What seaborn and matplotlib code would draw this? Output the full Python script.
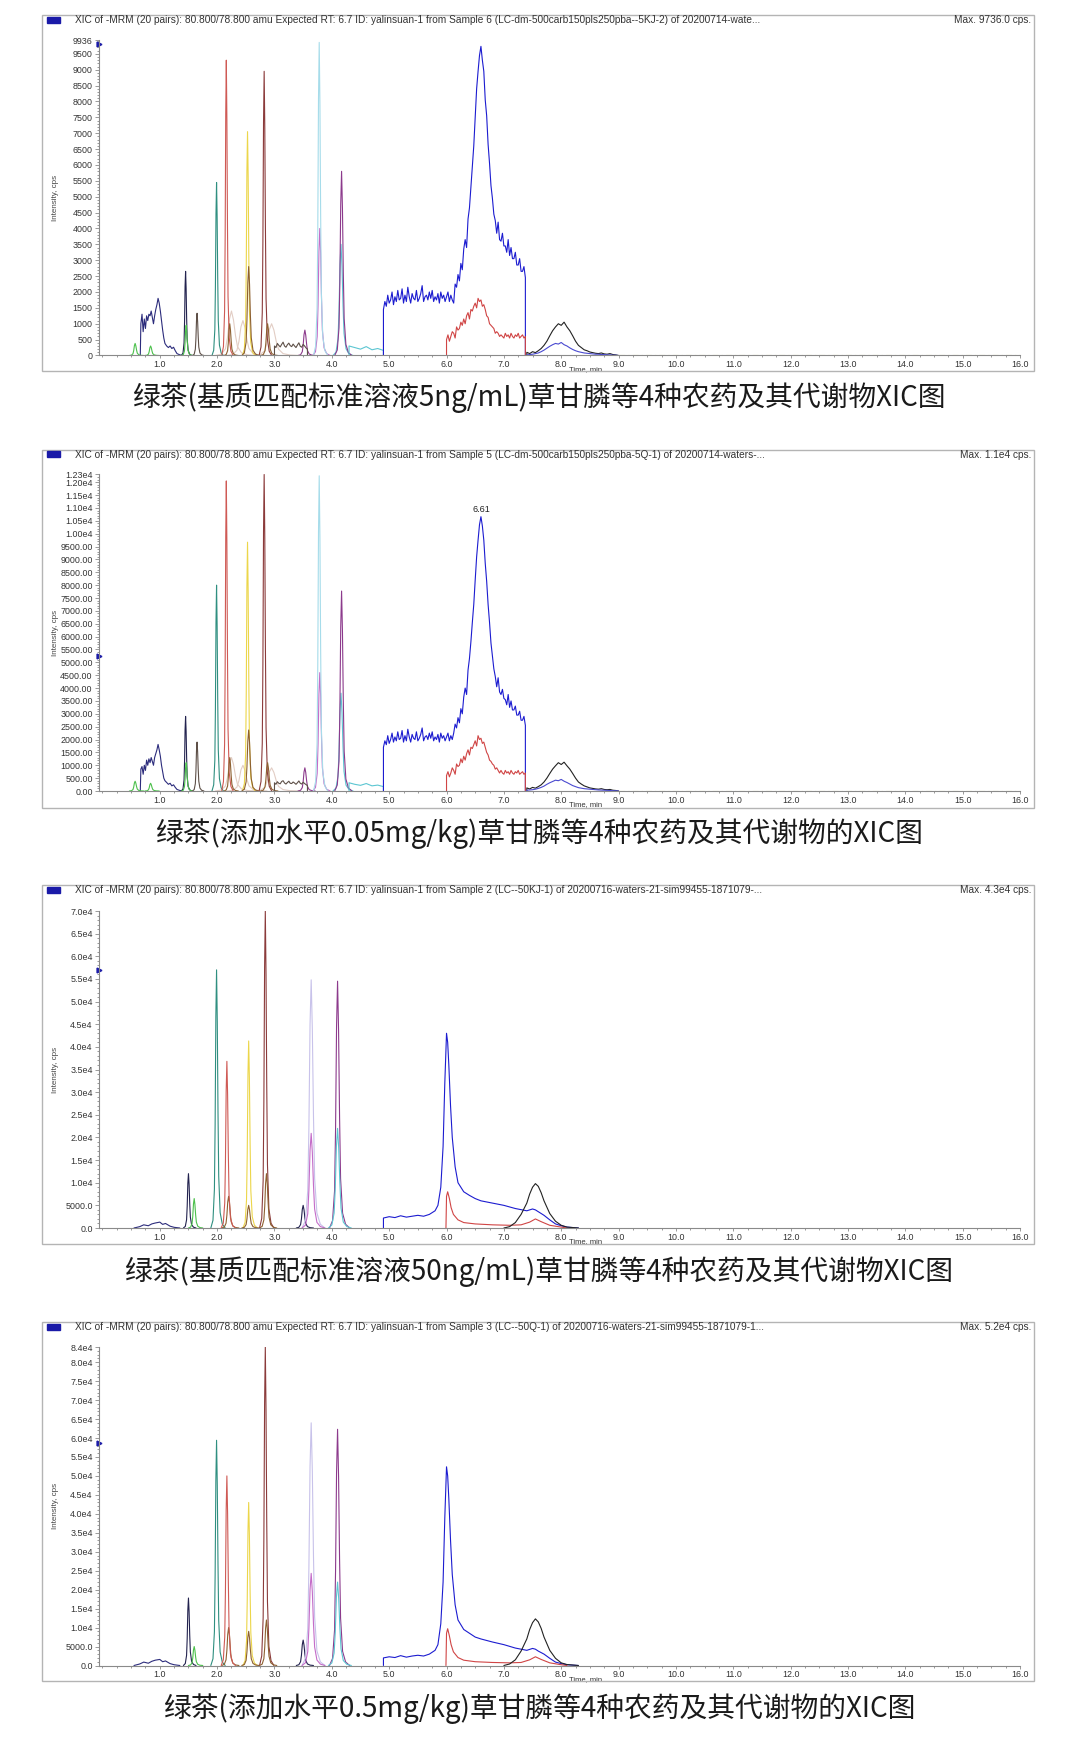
"""
XIC chromatograms of glyphosate and 3 other pesticides in green tea (4 panels)
"""

import numpy as np
import pandas as pd
import matplotlib
matplotlib.use("Agg")
import matplotlib.pyplot as plt
import seaborn as sns
from matplotlib.patches import Rectangle
from matplotlib.ticker import MultipleLocator, AutoMinorLocator

sns.set_style("white")
plt.rcParams["font.family"] = ["Liberation Sans", "Noto Sans CJK SC", "DejaVu Sans"]

COLORS = {
    "navy": "#2c2c7c", "green": "#4cc04c", "dark": "#23234f", "olive": "#5e5048",
    "teal": "#2f8f80", "red": "#cf5a55", "yellow": "#ecd64a", "brown": "#8d6030",
    "maroon": "#8b3b3b", "pale": "#e2cdc4", "cyan": "#a6dcea", "magenta": "#c46cc8",
    "purple": "#8c3a8c", "aqua": "#5cc6d2", "blue": "#1c1cd0", "rust": "#d04545",
    "black": "#222222", "violet": "#4a4ad0", "lav": "#c8c2ea", "base": "#cccc66",
}

# shared peak shape read from a typical sharp peak (offset in widths, fraction of height)
PEAK_DX = [-4, -2.5, -1.5, -1, -0.5, 0, 0.5, 1, 1.5, 2.5, 4, 6]
PEAK_FR = [0, 0.03, 0.15, 0.4, 0.82, 1, 0.8, 0.45, 0.2, 0.06, 0.015, 0]

# ---------------- panel 1 : matrix standard 5 ng/mL ----------------
P1_PK_T = [2.25, 2.45, 2.95, 0.57, 0.84, 1.45, 1.46, 1.65, 1.99, 2.16, 2.22, 2.53, 2.55, 2.82, 2.88, 3.53, 3.79, 3.78, 4.16, 4.17]
P1_PK_H = [1400, 1100, 1000, 380, 300, 2650, 950, 1330, 5450, 9300, 1000, 7050, 2800, 8950, 1000, 800, 4000, 9860, 3500, 5800]
P1_PK_W = [0.07, 0.07, 0.08, 0.025, 0.025, 0.018, 0.02, 0.02, 0.02, 0.02, 0.025, 0.022, 0.03, 0.022, 0.03, 0.03, 0.03, 0.025, 0.035, 0.03]
P1_PK_C = ["pale", "pale", "pale", "green", "green", "dark", "green", "olive", "teal", "red", "brown",
           "yellow", "brown", "maroon", "brown", "purple", "magenta", "cyan", "aqua", "purple"]

P1_EARLY_T = [0.66, 0.67, 0.69, 0.71, 0.73, 0.75, 0.77, 0.79, 0.81, 0.83, 0.85, 0.87, 0.89, 0.91, 0.93, 0.95,
              0.97, 0.99, 1.01, 1.03, 1.05, 1.07, 1.09, 1.12, 1.15, 1.18, 1.21, 1.24, 1.27, 1.30, 1.35, 1.40]
P1_EARLY_Y = [0, 1000, 1300, 750, 1150, 850, 1250, 1100, 1300, 1250, 1400, 1200, 1000, 1250, 1450, 1600,
              1800, 1650, 1400, 1100, 800, 550, 380, 300, 250, 300, 220, 260, 150, 60, 20, 0]
P1_BROWN_Y = [300, 250, 380, 320, 270, 350, 420, 300, 260, 340, 390, 310, 280, 360, 300, 250, 330, 400,
              290, 260, 350, 300, 240, 200]
P1_AQUA_Y = [300, 250, 200, 280, 180, 220, 160]
P1_BLUE_Y = [1450, 1700, 1550, 1900, 1650, 1750, 2000, 1600, 1850, 1700, 2050, 1750, 1800, 2100, 1650, 1900,
             1700, 2150, 1850, 1650, 1950, 1800, 1750, 2050, 1700, 1800, 1950, 2200, 1700, 1850, 1900, 1750,
             2000, 1800, 2050, 1700, 1850, 1750, 1950, 1650, 2000, 1800, 1900, 1700, 1850, 2000, 1700, 1900,
             1750, 1650,
             2250, 2150, 2550, 2350, 2900, 2700, 3350, 3650, 3400, 4300, 4650, 5300, 5950, 6600, 7500, 8400,
             8950, 9450, 9736,
             9300, 8950, 8050, 7550, 6650, 6050, 5350, 4950, 4450, 4250, 3850, 4200, 3650, 3600, 3850, 3450,
             3450, 3250, 3650, 3150, 3400, 3050, 3050, 3250, 2850, 2850, 3050, 2650, 2650, 2800, 2450]
P1_RED_Y = [500, 650, 450, 600, 750, 700, 550, 900, 800, 850, 1050, 950, 1150, 1000, 1250, 1350, 1150,
            1450, 1400, 1550, 1650, 1500, 1800, 1700, 1750,
            1550, 1600, 1450, 1250, 1200, 1000, 950, 900, 850, 700, 750, 700, 600, 650, 600, 550, 700, 600,
            650, 550, 700, 600, 550, 650, 600, 700, 550, 600, 650, 550, 600]
P1_BLACK_Y = [100, 60, 120, 90, 150, 220, 320, 450, 620, 780, 900, 1000, 950, 1050, 900, 780, 620, 450,
              320, 250, 180, 150, 110, 90, 70, 60, 80, 50, 40, 60, 30, 20, 0]
P1_VIOLET_Y = [20, 30, 40, 60, 80, 120, 170, 230, 290, 340, 380, 360, 410, 340, 300, 240, 190, 150, 120,
               100, 80, 70, 60, 50, 40, 40, 30, 30, 20, 20, 10, 10, 0]

# ---------------- panel 2 : spiked 0.05 mg/kg ----------------
P2_PK_T = P1_PK_T
P2_PK_H = [1300, 1000, 900, 380, 300, 2900, 1100, 1900, 8000, 12050, 1300, 9670, 2370, 12300, 1100, 900, 4600, 12250, 3800, 7770]
P2_PK_W = P1_PK_W
P2_PK_C = P1_PK_C

P2_EARLY_Y = [0, 850, 950, 650, 1000, 800, 1200, 1000, 1250, 1100, 1300, 1150, 1000, 1300, 1450, 1600,
              1810, 1600, 1350, 1000, 750, 500, 400, 330, 260, 300, 200, 240, 140, 60, 20, 0]
P2_BROWN_Y = [320, 260, 360, 300, 280, 370, 400, 310, 270, 330, 380, 300, 290, 350, 310, 260, 320, 390,
              300, 270, 340, 290, 250, 210]
P2_AQUA_Y = [320, 260, 220, 290, 200, 230, 170]
P2_BLUE_Y = [1700, 1950, 1800, 2150, 1850, 2000, 2250, 1900, 2100, 1950, 2300, 2000, 2050, 2350, 1900, 2150,
             1950, 2400, 2100, 1900, 2200, 2050, 2000, 2300, 1950, 2050, 2200, 2450, 1950, 2100, 2150, 2000,
             2250, 2050, 2300, 1950, 2100, 2000, 2200, 1900, 2250, 2050, 2150, 1950, 2100, 2250, 1950, 2150,
             2000, 2250,
             2600, 2450, 2850, 2650, 3200, 3000, 3650, 4000, 3750, 4700, 5150, 5800, 6550, 7250, 8200, 9100,
             9750, 10350, 10660,
             10300, 9750, 8850, 8150, 7250, 6550, 5750, 5250, 4750, 4450, 4050, 4400, 3850, 3750, 3950, 3600,
             3550, 3350, 3750, 3250, 3500, 3150, 3150, 3300, 2950, 2950, 3100, 2750, 2750, 2900, 2550]
P2_RED_Y = [600, 750, 550, 700, 900, 800, 650, 1050, 950, 1000, 1250, 1100, 1350, 1200, 1450, 1600, 1400,
            1700, 1650, 1800, 1950, 1750, 2150, 2000, 2050,
            1850, 1900, 1700, 1500, 1400, 1200, 1150, 1050, 1000, 850, 900, 800, 700, 800, 700, 650, 800, 700,
            750, 650, 800, 700, 650, 750, 700, 800, 650, 700, 750, 650, 700]
P2_BLACK_Y = [120, 80, 140, 110, 170, 240, 350, 500, 680, 850, 980, 1100, 1030, 1120, 980, 850, 680, 500,
              350, 270, 200, 160, 120, 100, 80, 70, 90, 60, 50, 60, 30, 20, 0]
P2_VIOLET_Y = [30, 40, 50, 70, 100, 140, 190, 260, 320, 370, 420, 400, 450, 380, 330, 270, 210, 170, 130,
               110, 90, 80, 70, 60, 50, 40, 35, 30, 25, 20, 10, 10, 0]

# ---------------- panel 3 : matrix standard 50 ng/mL ----------------
P3_PK_T = [1.50, 1.60, 1.99, 2.20, 2.17, 2.55, 2.55, 2.84, 2.86, 3.50, 3.64, 3.64, 4.10, 4.10]
P3_PK_H = [12000, 6500, 57000, 7000, 36800, 41300, 5000, 70000, 12000, 5000, 54800, 20900, 54500, 22000]
P3_PK_W = [0.022, 0.025, 0.025, 0.03, 0.025, 0.025, 0.03, 0.025, 0.03, 0.03, 0.04, 0.04, 0.035, 0.04]
P3_PK_C = ["dark", "green", "teal", "brown", "red", "yellow", "brown", "maroon", "brown", "dark",
           "lav", "magenta", "purple", "aqua"]

P3_EARLY_T = [0.55, 0.65, 0.72, 0.80, 0.86, 0.92, 1.00, 1.05, 1.10, 1.18, 1.25, 1.35]
P3_EARLY_Y = [0, 300, 700, 500, 900, 1100, 1300, 800, 1000, 400, 150, 0]
P3_BLUE_T = [4.90, 4.90, 5.0, 5.1, 5.2, 5.3, 5.4, 5.5, 5.6, 5.7, 5.8, 5.85, 5.9, 5.94, 5.97, 6.00, 6.02,
             6.04, 6.07, 6.10, 6.15, 6.20, 6.30, 6.40, 6.50, 6.60, 6.80, 7.00, 7.20, 7.40, 7.50, 7.55,
             7.60, 7.70, 7.80, 7.90, 8.00, 8.10, 8.30]
P3_BLUE_Y = [0, 2200, 2500, 2300, 2700, 2400, 2600, 2800, 2600, 3000, 3800, 5000, 9000, 18000, 32000,
             43000, 41000, 36000, 27000, 20000, 13500, 10000, 8000, 7200, 6500, 6000, 5500, 5000, 4300,
             3800, 4200, 4000, 3600, 2800, 1800, 900, 500, 200, 0]
P3_RED_T = [5.99, 6.00, 6.02, 6.05, 6.08, 6.12, 6.20, 6.30, 6.50, 6.80, 7.10, 7.30, 7.45, 7.55, 7.65,
            7.80, 8.00, 8.10]
P3_RED_Y = [0, 7000, 8000, 6500, 4500, 3000, 1800, 1200, 900, 700, 600, 700, 1300, 2000, 1400, 600, 200, 0]
P3_BLACK_T = [7.0, 7.1, 7.2, 7.3, 7.4, 7.45, 7.5, 7.55, 7.6, 7.65, 7.7, 7.8, 7.9, 8.0, 8.1, 8.3]
P3_BLACK_Y = [0, 300, 1200, 3000, 5500, 7500, 9000, 9800, 9200, 7800, 6000, 3200, 1500, 600, 200, 0]

# ---------------- panel 4 : spiked 0.5 mg/kg ----------------
P4_PK_T = P3_PK_T
P4_PK_H = [17800, 5000, 59400, 10000, 50000, 43000, 9000, 84000, 12000, 6700, 64000, 24300, 62300, 22000]
P4_PK_W = P3_PK_W
P4_PK_C = P3_PK_C

P4_EARLY_Y = [0, 400, 900, 600, 1100, 1400, 1600, 1000, 1200, 500, 200, 0]
P4_BLUE_Y = [0, 2000, 2300, 2100, 2600, 2200, 2500, 2700, 2500, 3000, 4000, 5500, 11000, 22000, 39000,
             52400, 50000, 44000, 33000, 24000, 16000, 12000, 9500, 8500, 7500, 7000, 6200, 5500, 4600,
             4000, 4500, 4300, 3800, 3000, 1900, 900, 500, 200, 0]
P4_RED_Y = [0, 8500, 9700, 7800, 5500, 3600, 2100, 1400, 1000, 800, 700, 800, 1500, 2300, 1600, 700, 200, 0]
P4_BLACK_Y = [0, 400, 1500, 3800, 7000, 9500, 11300, 12300, 11500, 9800, 7500, 4000, 1900, 700, 250, 0]

BASE_T = [9.0, 16.0]
BASE_Y = [0, 0]

# y axes
P1_YT = list(range(0, 10000, 500)) + [9936]
P2_YT = list(range(0, 12001, 500)) + [12300]
P3_YT = list(range(0, 70001, 5000))
P4_YT = list(range(0, 80001, 5000)) + [84000]
P1_YL = [str(v) for v in P1_YT]
P2_YL = [f"{v:.2f}" if v < 10000 else f"{v / 1e4:.2f}e4" for v in P2_YT]
P3_YL = ["0.0" if v == 0 else ("5000.0" if v == 5000 else f"{v / 1e4:.1f}e4") for v in P3_YT]
P4_YL = ["0.0" if v == 0 else ("5000.0" if v == 5000 else f"{v / 1e4:.1f}e4") for v in P4_YT]
Y_MARK = [9800, 5250, 57000, 58700]

HEAD = "XIC of -MRM (20 pairs): 80.800/78.800 amu Expected RT: 6.7 ID: yalinsuan-1 from "
HEADERS = [
    HEAD + "Sample 6 (LC-dm-500carb150pls250pba--5KJ-2) of 20200714-wate...",
    HEAD + "Sample 5 (LC-dm-500carb150pls250pba-5Q-1) of 20200714-waters-...",
    HEAD + "Sample 2 (LC--50KJ-1) of 20200716-waters-21-sim99455-1871079-...",
    HEAD + "Sample 3 (LC--50Q-1) of 20200716-waters-21-sim99455-1871079-1...",
]
MAXES = ["Max. 9736.0 cps.", "Max. 1.1e4 cps.", "Max. 4.3e4 cps.", "Max. 5.2e4 cps."]
CAPTIONS = [
    "绿茶(基质匹配标准溶液5ng/mL)草甘膦等4种农药及其代谢物XIC图",
    "绿茶(添加水平0.05mg/kg)草甘膦等4种农药及其代谢物的XIC图",
    "绿茶(基质匹配标准溶液50ng/mL)草甘膦等4种农药及其代谢物XIC图",
    "绿茶(添加水平0.5mg/kg)草甘膦等4种农药及其代谢物的XIC图",
]

# layout in pixels
W, H = 1080, 1742
AX_L, AX_R = 99, 1020
AX_TOP = [40, 474.5, 911, 1347]
AX_BASE = [355.5, 791, 1228, 1665.5]
FR_L, FR_R = 42, 1034
FR_TOP = [15.5, 450, 885.5, 1322]
FR_BOT = [371, 808, 1244, 1681]
CAP_Y = [398, 834, 1272, 1709]


def peak_layers(T, Hs, Ws, C):
    out = []
    for t0, h, w, c in zip(T, Hs, Ws, C):
        out.append((t0 + np.array(PEAK_DX) * w, np.array(PEAK_FR) * h, c))
    return out


def grid_layer(t0, step, vals, c):
    t = t0 + step * np.arange(len(vals))
    return (np.r_[t0, t, t[-1]], np.r_[0, vals, 0], c)


def draw(ax, layers, lw=0.8):
    frames, pal, order = [], {}, []
    for i, (t, y, c) in enumerate(layers):
        name = f"L{i:02d}"
        frames.append(pd.DataFrame({"t": t, "y": y, "trace": name}))
        pal[name] = COLORS[c]
        order.append(name)
    df = pd.concat(frames, ignore_index=True)
    sns.lineplot(data=df, x="t", y="y", hue="trace", hue_order=order, palette=pal,
                 estimator=None, sort=False, legend=False, linewidth=lw, ax=ax)


def low_layers(early_t, early_y, pk, brown, aqua, blue, red, black, violet):
    L = [(np.array(early_t), np.array(early_y), "navy")]
    L += peak_layers(*pk)
    L.append(grid_layer(3.0, 0.025, brown, "olive"))
    L.append(grid_layer(4.3, 0.1, aqua, "aqua"))
    L.append(grid_layer(4.9, 0.025, blue, "blue"))
    L.append(grid_layer(6.0, 0.025, red, "rust"))
    L.append(grid_layer(7.4, 0.05, black, "black"))
    L.append(grid_layer(7.4, 0.05, violet, "violet"))
    return L


def high_layers(early_y, pk, blue_y, red_y, black_y):
    L = [(np.array(P3_EARLY_T), np.array(early_y), "navy")]
    L += peak_layers(*pk)
    L.append((np.array(P3_BLUE_T), np.array(blue_y), "blue"))
    L.append((np.array(P3_RED_T), np.array(red_y), "rust"))
    L.append((np.array(P3_BLACK_T), np.array(black_y), "black"))
    return L


LAYERS = [
    low_layers(P1_EARLY_T, P1_EARLY_Y, (P1_PK_T, P1_PK_H, P1_PK_W, P1_PK_C), P1_BROWN_Y, P1_AQUA_Y,
               P1_BLUE_Y, P1_RED_Y, P1_BLACK_Y, P1_VIOLET_Y),
    low_layers(P1_EARLY_T, P2_EARLY_Y, (P2_PK_T, P2_PK_H, P2_PK_W, P2_PK_C), P2_BROWN_Y, P2_AQUA_Y,
               P2_BLUE_Y, P2_RED_Y, P2_BLACK_Y, P2_VIOLET_Y),
    high_layers(P3_EARLY_Y, (P3_PK_T, P3_PK_H, P3_PK_W, P3_PK_C), P3_BLUE_Y, P3_RED_Y, P3_BLACK_Y),
    high_layers(P4_EARLY_Y, (P4_PK_T, P4_PK_H, P4_PK_W, P4_PK_C), P4_BLUE_Y, P4_RED_Y, P4_BLACK_Y),
]
YTICKS = [(P1_YT, P1_YL), (P2_YT, P2_YL), (P3_YT, P3_YL), (P4_YT, P4_YL)]

fig = plt.figure(figsize=(W / 100, H / 100), dpi=100)
fig.patch.set_facecolor("white")

for i in range(4):
    # panel frame and header
    fig.add_artist(Rectangle((FR_L / W, 1 - FR_BOT[i] / H), (FR_R - FR_L) / W,
                             (FR_BOT[i] - FR_TOP[i]) / H, transform=fig.transFigure,
                             fill=False, edgecolor="#b4b4b4", linewidth=1.0))
    fig.add_artist(Rectangle((47 / W, 1 - (FR_TOP[i] + 7.5) / H), 13 / W, 6 / H,
                             transform=fig.transFigure, color="#1a1aa8"))
    fig.text(75 / W, 1 - (FR_TOP[i] + 4.5) / H, HEADERS[i], fontsize=7.3, color="#333333",
             va="center", ha="left")
    fig.text(1031 / W, 1 - (FR_TOP[i] + 4.5) / H, MAXES[i], fontsize=7.3, color="#333333",
             va="center", ha="right")
    fig.text(539 / W, 1 - CAP_Y[i] / H, CAPTIONS[i], fontsize=20, color="#1a1a1a",
             ha="center", va="center", family=["Noto Sans CJK SC", "DejaVu Sans"])

    ax = fig.add_axes([AX_L / W, 1 - AX_BASE[i] / H, (AX_R - AX_L) / W,
                       (AX_BASE[i] - AX_TOP[i]) / H])
    draw(ax, LAYERS[i])
    if i < 2:
        sns.lineplot(x=BASE_T, y=BASE_Y, color=COLORS["base"], linewidth=0.8,
                     linestyle=(0, (5, 3, 1, 3)), ax=ax)

    yt, yl = YTICKS[i]
    ax.set_xlim(-0.06, 16.0)
    ax.set_ylim(0, yt[-1])
    ax.set_xticks(np.arange(1, 17))
    ax.set_xticklabels([f"{v:.1f}" for v in np.arange(1, 17)])
    ax.xaxis.set_minor_locator(MultipleLocator(0.25))
    ax.set_yticks(yt)
    ax.set_yticklabels(yl)
    ax.yaxis.set_minor_locator(AutoMinorLocator(5))
    for s in ["top", "right"]:
        ax.spines[s].set_visible(False)
    for s in ["left", "bottom"]:
        ax.spines[s].set_color("#8a8a8a")
        ax.spines[s].set_linewidth(0.8)
    ax.tick_params(which="both", bottom=True, left=True, color="#8a8a8a", width=0.6)
    ax.tick_params(which="major", length=3, labelsize=6.4, labelcolor="#333333", pad=1.5)
    ax.tick_params(axis="x", which="major", length=2.5, pad=0.8)
    ax.tick_params(which="minor", length=1.5)
    ax.set_xlabel("")
    ax.set_ylabel("Intensity, cps", fontsize=5.8, color="#444444")
    ax.yaxis.set_label_coords(-0.043, 0.5)
    ax.annotate("Time, min", xy=(8.0, 0), xycoords=("data", "axes fraction"),
                xytext=(5.5, -9.8), textcoords="offset points", fontsize=5.5, color="#333333",
                ha="left", va="center", annotation_clip=False)
    ax.plot([-0.06], [Y_MARK[i]], marker=">", markersize=3.5, color="#1a1aa8", clip_on=False)
    ax.set_facecolor("white")

# retention time label of the main peak in panel 2
fig.axes[1].annotate("6.61", xy=(6.61, max(P2_BLUE_Y)), xytext=(0, 5), textcoords="offset points",
                     fontsize=6.5, color="#222222", ha="center", va="center")

fig.savefig("out.png", dpi=100, facecolor="white")
